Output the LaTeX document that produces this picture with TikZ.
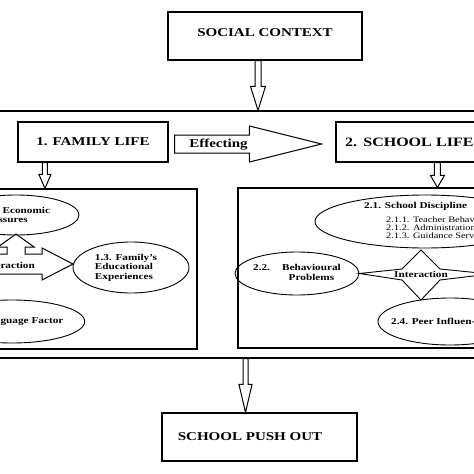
\documentclass[tikz,border=0pt]{standalone}
\usepackage{fontspec}
\setmainfont{Liberation Serif}[FakeStretch=1.25]
\usetikzlibrary{shapes.geometric,calc}

\tikzset{
    box/.style={draw, rectangle, line width=1.1pt, inner sep=0pt},
    oval/.style={draw, ellipse, line width=.9pt, inner sep=0pt},
    hollow/.style={draw, line width=1pt, line join=miter},
    bigtxt/.style={font=\fontsize{12}{14}\selectfont\bfseries},
    midtxt/.style={font=\fontsize{9}{9.5}\selectfont\bfseries},
    smalltxt/.style={font=\fontsize{8.3}{7.8}\selectfont}
}

% hollow block arrow pointing down: from, to, head length, head half width, shaft half width
\newcommand{\hollowdown}[5]{%
    \draw[hollow] let \p1=#1, \p2=#2 in
        ({\x1-#5pt},\y1) -- ({\x1-#5pt},{\y2+#3pt}) -- ({\x1-#4pt},{\y2+#3pt})
        -- (\x1,\y2) -- ({\x1+#4pt},{\y2+#3pt}) -- ({\x1+#5pt},{\y2+#3pt})
        -- ({\x1+#5pt},\y1) -- cycle;}

\begin{document}
\begin{tikzpicture}[x=1pt,y=-1pt]
    \useasboundingbox (0,0) rectangle (474,474);
    \clip (0,0) rectangle (474,474);

    \node[box, bigtxt, minimum width=194pt, minimum height=48pt, text depth=7pt] (soc) at (265,36) {SOCIAL CONTEXT};
    \node[box, line width=1.3pt, minimum width=500pt, minimum height=247pt] (outer) at (237,234.5) {};
    \node[box, bigtxt, minimum width=150pt, minimum height=40pt] (fam) at (93,142) {1. FAMILY LIFE};
    \node[box, bigtxt, font=\fontsize{12.8}{14}\selectfont\bfseries, minimum height=40pt, text width=146pt, align=left, inner xsep=9pt] (scl) at (418,142) {2. SCHOOL LIFE};
    \node[box, minimum width=207pt, minimum height=160pt] (famin) at (93.5,269) {};
    \node[box, minimum width=252pt, minimum height=160pt] (sclin) at (364,268) {};
    \node[box, bigtxt, minimum width=195pt, minimum height=48pt] (push) at (259.5,437) {SCHOOL PUSH OUT\hspace*{19pt}};

    \coordinate (socdown) at ($(soc.south)+(-7,0)$);
    \hollowdown{(socdown)}{(socdown |- outer.north)}{24}{7.5}{3}
    \coordinate (famdown) at ($(fam.south west)+(27.5,0)$);
    \hollowdown{(famdown)}{(famdown |- famin.north)}{14}{6}{2.5}
    \coordinate (scldown) at ($(scl.south west)+(102,0)$);
    \hollowdown{(scldown)}{(scldown |- sclin.north)}{12}{7}{3}
    \coordinate (pushdown) at ($(push.north)+(-14,0)$);
    \hollowdown{(pushdown |- outer.south)}{(pushdown)}{28}{6.5}{2.5}

    % effecting arrow
    \coordinate (effstart) at ($(fam.east)+(6,2)$);
    \coordinate (efftip) at ($(scl.west)+(-14,2)$);
    \draw[hollow] let \p1=(effstart), \p2=(efftip) in
        (\x1,{\y1+9pt}) -- ({\x2-72pt},{\y1+9pt}) -- ({\x2-72pt},{\y1+18pt}) -- (\x2,\y2)
        -- ({\x2-72pt},{\y1-18pt}) -- ({\x2-72pt},{\y1-9pt}) -- (\x1,{\y1-9pt}) -- cycle;
    \node[bigtxt] (eff) at (218.5,144.5) {Effecting};

    % family life
    \node[oval, midtxt, minimum width=126pt, minimum height=40pt, align=left] (econ) at (16,215) {1.1. Economic\\Pressures};
    \node[oval, midtxt, minimum width=116pt, minimum height=51pt, align=left] (edu) at (131,267.5) {1.3. Family's\hspace*{10pt}\\Educational\\Experiences};
    \node[oval, midtxt, minimum width=128pt, minimum height=43pt] (lang) at (12,321.5) {1.4. Language Factor};
    \draw[hollow] (-41,264) -- (-10,248) -- (-10,254) -- (7,254) -- (7,247) -- (-2,247) -- (16,234)
        -- (34,247) -- (25,247) -- (25,254) -- (42,254) -- (42,248) -- (73,264)
        -- (42,280) -- (42,274) -- (-10,274) -- (-10,280) -- cycle;
    \node[midtxt] (lint) at (8,265) {Interaction};

    % school life
    \node[oval, minimum width=220pt, minimum height=53pt] (disc) at (425,221.5) {};
    \node[midtxt, anchor=base west, inner sep=0pt] (disctitle) at (364,208.5) {2.1. School Discipline};
    \node[smalltxt, anchor=north west, inner sep=0pt, align=left] (discitems) at (386,217) {2.1.1. Teacher Behaviour\\2.1.2. Administration\\2.1.3. Guidance Services};
    \node[oval, midtxt, minimum width=110pt, minimum height=43pt] (beh) at (297,273.5)
        {\begin{tabular}{@{}l@{\hspace{12pt}}c@{}}2.2. & Behavioural\\ & Problems\end{tabular}};
    \node[oval, minimum width=144pt, minimum height=47pt] (peer) at (450,321.5) {};
    \node[midtxt, anchor=west, inner sep=0pt] (peertxt) at (391,321) {2.4. Peer Influen-};
    \draw[line width=.9pt, line join=miter] (beh.east) -- (402,269) -- (421,250) -- (440,269) -- (490,274)
        -- (440,280) -- (421,300) -- (402,280) -- cycle;
    \node[midtxt] (rint) at (421,274.5) {Interaction};
\end{tikzpicture}
\end{document}
